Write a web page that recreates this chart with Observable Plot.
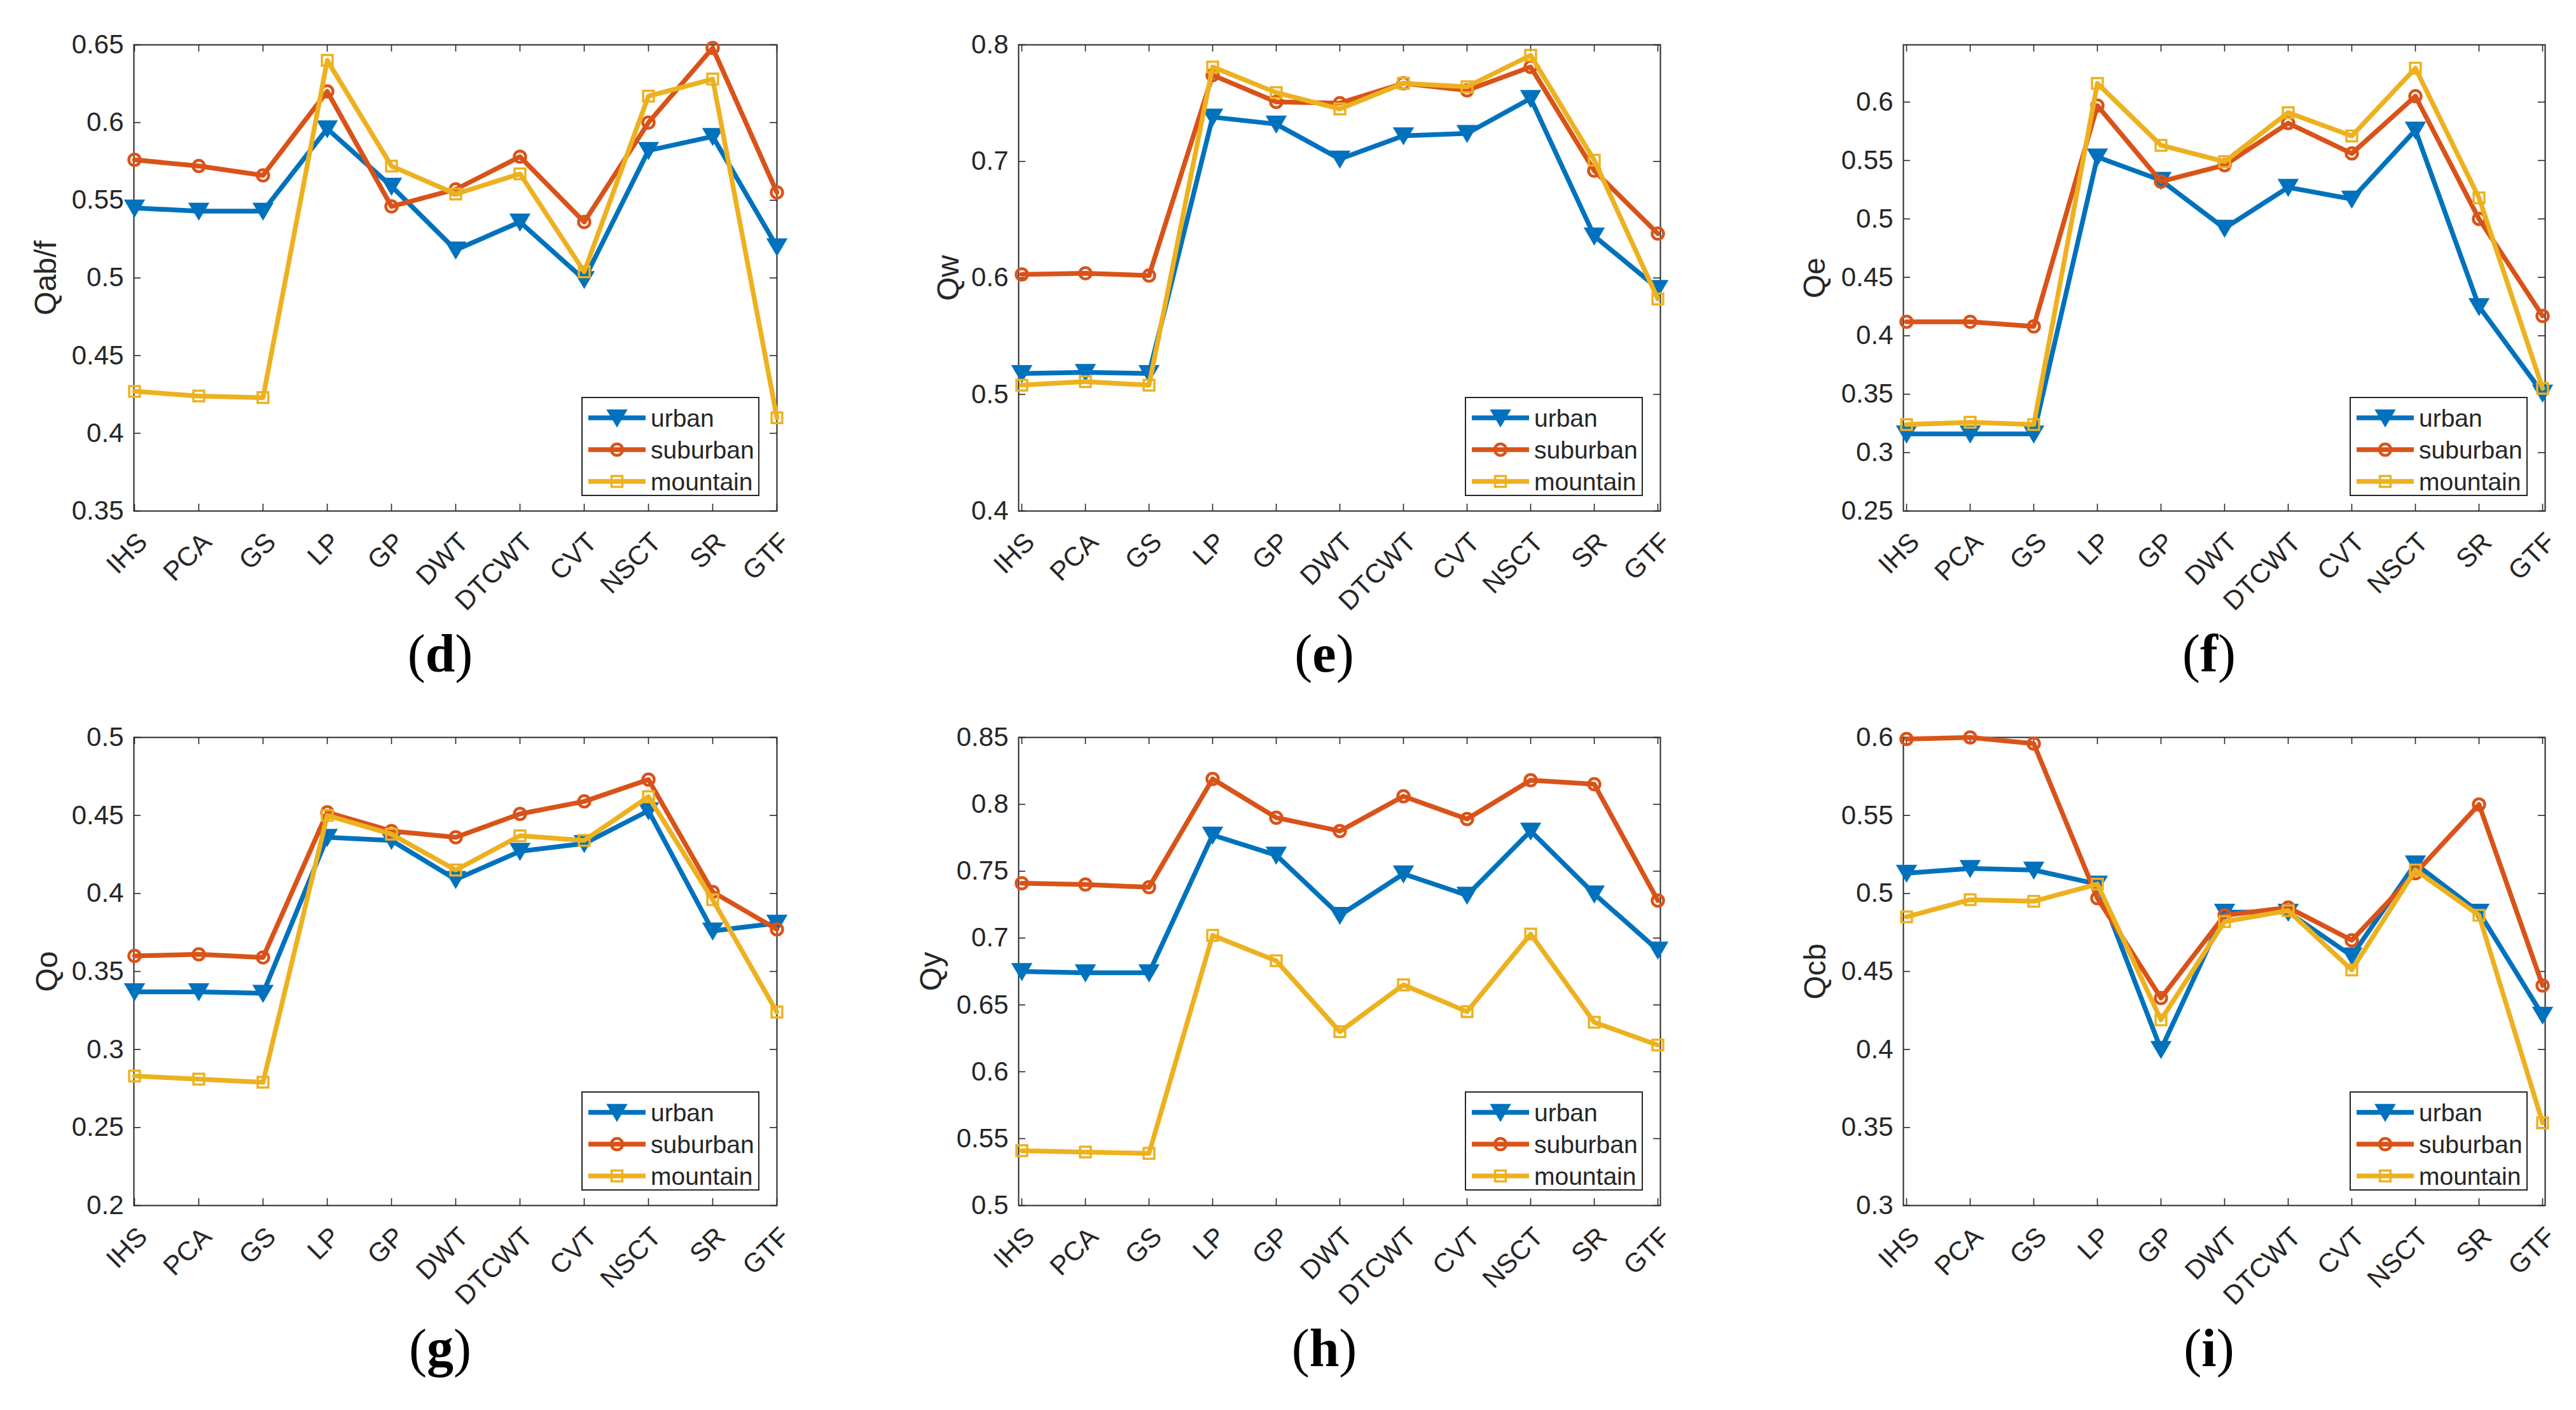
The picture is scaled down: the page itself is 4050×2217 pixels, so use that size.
<!DOCTYPE html>
<html><head><meta charset="utf-8">
<script src="https://cdn.jsdelivr.net/npm/d3@7"></script>
<script src="https://cdn.jsdelivr.net/npm/@observablehq/plot@0.6"></script>
<style>
html,body{margin:0;padding:0;background:#fff;}
#page{position:relative;width:4050px;height:2217px;overflow:hidden;background:#fff;}
.panel{position:absolute;width:1350px;}
.cap{position:absolute;font-family:"Liberation Serif","Times New Roman",serif;font-size:84px;line-height:84px;text-align:center;width:400px;color:#000;}
.legend{position:absolute;box-sizing:border-box;border:2px solid #262626;background:#fff;}
</style></head><body><div id="page"></div><script>
// ---------- data ----------
const methods = ["IHS","PCA","GS","LP","GP","DWT","DTCWT","CVT","NSCT","SR","GTF"];
const seriesNames = ["urban","suburban","mountain"];
const seriesColors = ["#0072BD","#D95319","#EDB120"];

const qabfUrban    = [0.545,0.543,0.543,0.596,0.559,0.518,0.536,0.499,0.582,0.591,0.520];
const qabfSuburban = [0.576,0.572,0.566,0.620,0.546,0.557,0.578,0.536,0.600,0.648,0.555];
const qabfMountain = [0.427,0.424,0.423,0.640,0.572,0.554,0.567,0.504,0.617,0.628,0.410];

const qwUrban    = [0.518,0.519,0.518,0.738,0.732,0.702,0.722,0.724,0.754,0.636,0.591];
const qwSuburban = [0.603,0.604,0.602,0.774,0.751,0.750,0.767,0.761,0.781,0.692,0.638];
const qwMountain = [0.508,0.511,0.508,0.781,0.759,0.745,0.767,0.764,0.791,0.701,0.582];

const qeUrban    = [0.316,0.316,0.316,0.553,0.533,0.492,0.527,0.517,0.576,0.425,0.351];
const qeSuburban = [0.412,0.412,0.408,0.597,0.532,0.546,0.582,0.556,0.605,0.500,0.417];
const qeMountain = [0.324,0.326,0.324,0.616,0.563,0.549,0.591,0.571,0.629,0.518,0.355];

const qoUrban    = [0.337,0.337,0.336,0.436,0.434,0.409,0.427,0.432,0.453,0.376,0.381];
const qoSuburban = [0.360,0.361,0.359,0.452,0.440,0.436,0.451,0.459,0.473,0.401,0.377];
const qoMountain = [0.283,0.281,0.279,0.450,0.438,0.415,0.437,0.434,0.462,0.396,0.324];

const qyUrban    = [0.675,0.674,0.674,0.777,0.762,0.717,0.748,0.732,0.780,0.733,0.691];
const qySuburban = [0.741,0.740,0.738,0.819,0.790,0.780,0.806,0.789,0.818,0.815,0.728];
const qyMountain = [0.541,0.540,0.539,0.702,0.683,0.630,0.665,0.645,0.703,0.637,0.620];

const qcbUrban    = [0.513,0.516,0.515,0.506,0.400,0.488,0.488,0.460,0.519,0.488,0.422];
const qcbSuburban = [0.599,0.600,0.596,0.497,0.433,0.486,0.491,0.470,0.513,0.557,0.441];
const qcbMountain = [0.485,0.496,0.495,0.506,0.419,0.482,0.489,0.451,0.515,0.486,0.353];

const ticksQabf = [0.35,0.4,0.45,0.5,0.55,0.6,0.65];
const ticksQw   = [0.4,0.5,0.6,0.7,0.8];
const ticksQe   = [0.25,0.3,0.35,0.4,0.45,0.5,0.55,0.6];
const ticksQo   = [0.2,0.25,0.3,0.35,0.4,0.45,0.5];
const ticksQy   = [0.5,0.55,0.6,0.65,0.7,0.75,0.8,0.85];
const ticksQcb  = [0.3,0.35,0.4,0.45,0.5,0.55,0.6];

const panelLetters = ["d","e","f","g","h","i"];
const panelLabels  = ["Qab/f","Qw","Qe","Qo","Qy","Qcb"];

// ---------- layout ----------
const colX = [[210,1221],[1601,2610],[2992,4001]];
const rowY = [[70,803],[1159,1895]];
const svgTop = [0,1100];
const svgH = 990;
const capCx = [692,2082,3473];
const capCy = [1037,2129];
const AX = "#262626";
const FONT = '"Liberation Sans", Arial, Helvetica, sans-serif';

const triangleDown = {draw(ctx, size){ const r = Math.sqrt(size/Math.PI);
  ctx.moveTo(-r,-0.82*r); ctx.lineTo(r,-0.82*r); ctx.lineTo(0,0.88*r); ctx.closePath(); }};
const markerSpec = [
  {symbol: triangleDown, r: 15, fill: true, sw: 2},
  {symbol: "circle", r: 9, fill: false, sw: 4.5},
  {symbol: "square", r: 9.5, fill: false, sw: 3.5}
];

const panels = [
  {domain:[0.35,0.65], ticks:ticksQabf, values:[qabfUrban,qabfSuburban,qabfMountain], labelDx:-138},
  {domain:[0.4,0.8],   ticks:ticksQw,   values:[qwUrban,qwSuburban,qwMountain],       labelDx:-110},
  {domain:[0.25,0.649],ticks:ticksQe,   values:[qeUrban,qeSuburban,qeMountain],       labelDx:-139},
  {domain:[0.2,0.5],   ticks:ticksQo,   values:[qoUrban,qoSuburban,qoMountain],       labelDx:-136},
  {domain:[0.5,0.85],  ticks:ticksQy,   values:[qyUrban,qySuburban,qyMountain],       labelDx:-137},
  {domain:[0.3,0.6],   ticks:ticksQcb,  values:[qcbUrban,qcbSuburban,qcbMountain],    labelDx:-138}
];

const page = document.getElementById("page");

panels.forEach((p, k) => {
  const col = k % 3, row = Math.floor(k / 3);
  const left = col * 1350, top = svgTop[row];
  const [fx0, fx1] = colX[col], [fy0, fy1] = rowY[row];
  const pw = fx1 - fx0, ph = fy1 - fy0;
  const seriesMarks = [];
  seriesNames.forEach((s, i) => {
    const rows = methods.map((m, j) => ({method: m, value: p.values[i][j]}));
    const c = seriesColors[i], ms = markerSpec[i];
    seriesMarks.push(Plot.line(rows, {x: "method", y: "value", stroke: c, strokeWidth: 7.5, strokeLinejoin: "round"}));
    seriesMarks.push(Plot.dot(rows, {x: "method", y: "value", symbol: ms.symbol, r: ms.r,
      fill: ms.fill ? c : "none", stroke: c, strokeWidth: ms.sw}));
  });
  const chart = Plot.plot({
    width: 1350, height: svgH,
    marginLeft: fx0 - left, marginRight: left + 1350 - fx1,
    marginTop: fy0 - top, marginBottom: top + svgH - fy1,
    x: {type: "point", domain: methods, padding: 0, axis: null},
    y: {domain: p.domain, axis: null},
    style: {fontFamily: FONT, fontSize: "42px", color: AX,
            background: "transparent", overflow: "visible", maxWidth: "none"},
    marks: [
      Plot.frame({stroke: AX, strokeWidth: 2}),
      Plot.tickX(methods, {x: d => d, insetTop: ph - 11, stroke: AX, strokeWidth: 1.6}),
      Plot.tickX(methods, {x: d => d, insetBottom: ph - 11, stroke: AX, strokeWidth: 1.6}),
      Plot.tickY(p.ticks, {y: d => d, insetRight: pw - 11, stroke: AX, strokeWidth: 1.6}),
      Plot.tickY(p.ticks, {y: d => d, insetLeft: pw - 11, stroke: AX, strokeWidth: 1.6}),
      Plot.axisX({anchor: "bottom", tickSize: 0, tickPadding: 0, tickRotate: -45, dx: 13, dy: 42, label: null, fill: AX, fontSize: 42}),
      Plot.axisY({anchor: "left", ticks: p.ticks, tickSize: 0, tickPadding: 16, tickFormat: d => String(d), label: null, fill: AX, fontSize: 42}),
      Plot.text([panelLabels[k]], {frameAnchor: "left", text: d => d, rotate: -90, dx: p.labelDx,
        fontSize: 48, fill: AX, textAnchor: "middle", lineAnchor: "middle"}),
      ...seriesMarks
    ]
  });
  const wrap = document.createElement("div");
  wrap.className = "panel";
  wrap.style.left = left + "px"; wrap.style.top = top + "px";
  wrap.appendChild(chart);
  page.appendChild(wrap);

  // legend
  const lg = document.createElement("div");
  lg.className = "legend";
  lg.style.left = (fx1 - 307) + "px"; lg.style.top = (fy1 - 179) + "px";
  lg.style.width = "280px"; lg.style.height = "156px";
  const svg = d3.select(lg).append("svg").attr("width", 276).attr("height", 152).style("display","block");
  seriesNames.forEach((s, i) => {
    const cy = 31 + 50 * i, c = seriesColors[i], ms = markerSpec[i];
    svg.append("line").attr("x1", 9).attr("x2", 99).attr("y1", cy).attr("y2", cy)
      .attr("stroke", c).attr("stroke-width", 7.5);
    const type = ms.symbol === "circle" ? d3.symbolCircle : ms.symbol === "square" ? d3.symbolSquare : ms.symbol;
    svg.append("path").attr("d", d3.symbol().type(type).size(Math.PI * ms.r * ms.r)())
      .attr("transform", `translate(54,${cy})`)
      .attr("fill", ms.fill ? c : "none").attr("stroke", c).attr("stroke-width", ms.sw);
    svg.append("text").attr("x", 107).attr("y", cy).attr("dy", "0.35em")
      .attr("font-family", FONT).attr("font-size", 39)
      .attr("fill", AX).text(s);
  });
  page.appendChild(lg);

  // caption
  const cap = document.createElement("div");
  cap.className = "cap";
  cap.style.left = (capCx[col] - 200) + "px";
  cap.style.top = (capCy[row] - 51) + "px";
  cap.innerHTML = "(<b>" + panelLetters[k] + "</b>)";
  page.appendChild(cap);
});
</script></body></html>
